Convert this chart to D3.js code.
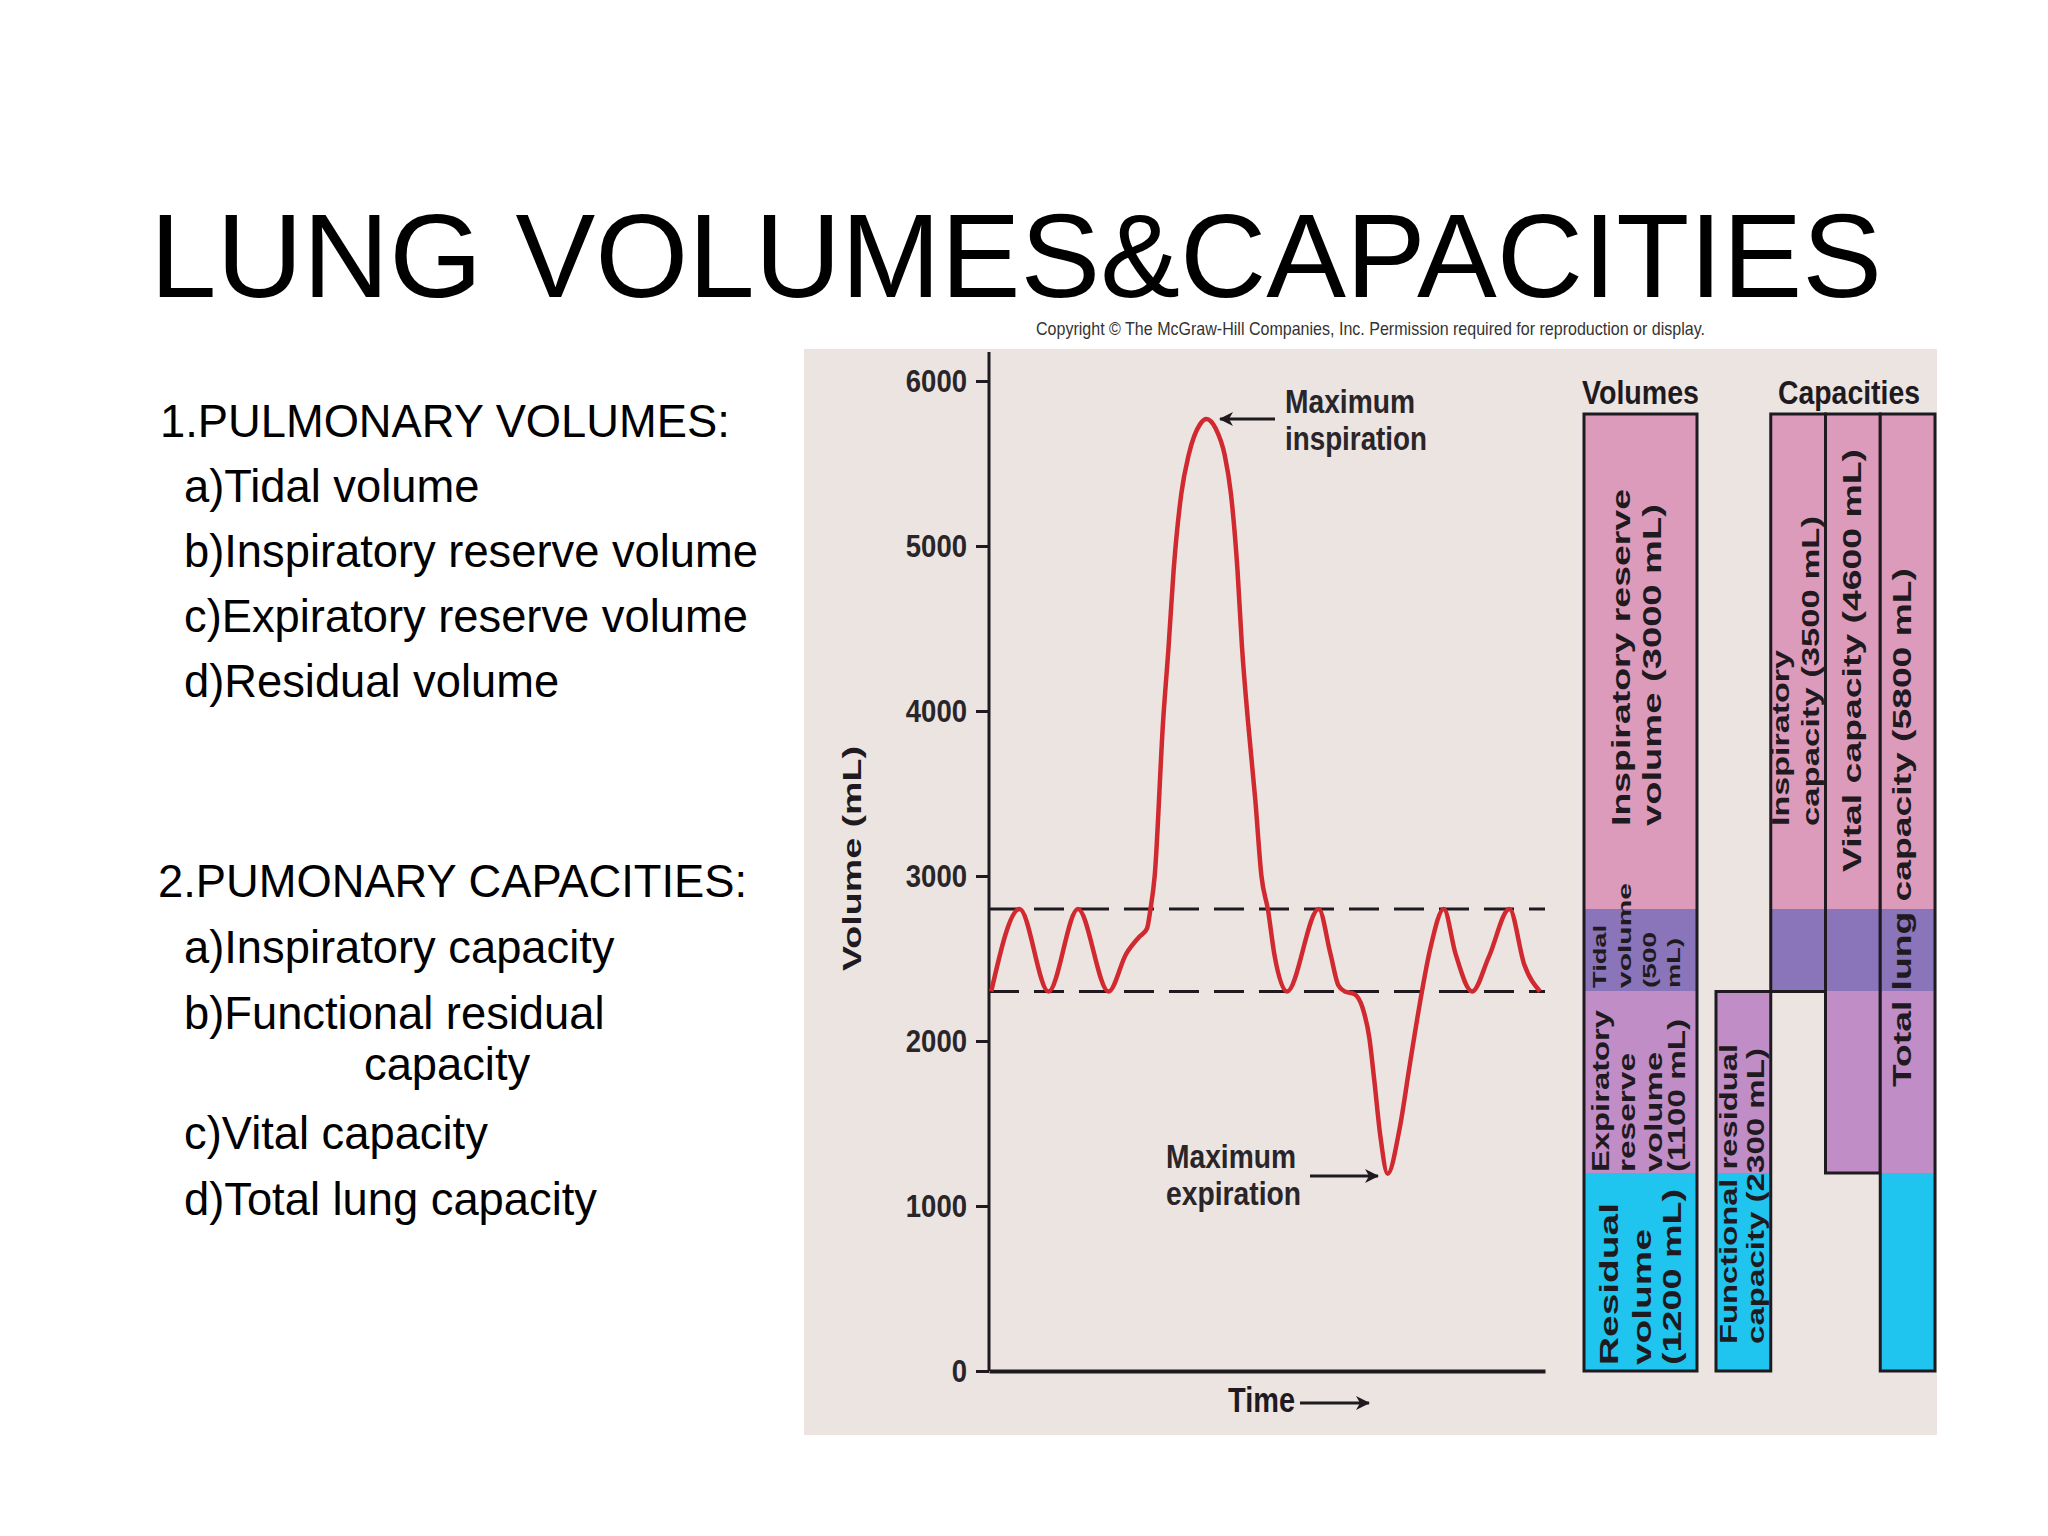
<!DOCTYPE html>
<html><head><meta charset="utf-8">
<script src="https://cdn.jsdelivr.net/npm/d3@7"></script>
<style>
html,body{margin:0;padding:0;background:#fff;}
svg{display:block;}
</style></head>
<body>
<svg id="c" width="2048" height="1536"></svg>
<script>
// ---------------- data ----------------
const titleText = "LUNG VOLUMES&CAPACITIES";
const copyrightText = "Copyright \u00A9 The McGraw-Hill Companies, Inc. Permission required for reproduction or display.";
const listLines = ["1.PULMONARY VOLUMES:", "a)Tidal volume", "b)Inspiratory reserve volume",
  "c)Expiratory reserve volume", "d)Residual volume",
  "2.PUMONARY CAPACITIES:", "a)Inspiratory capacity", "b)Functional residual", "capacity",
  "c)Vital capacity", "d)Total lung capacity"];

const yTicks = [0, 1000, 2000, 3000, 4000, 5000, 6000];
const yAxisTitle = "Volume (mL)";
const xAxisTitle = "Time";

// spirogram trace (time in arbitrary units 0-100, volume in mL)
const traceTime = [0.4, 5.5, 10.7, 16.0, 21.5, 24.7, 27.0, 28.4, 29.0, 29.8, 31.3, 32.3, 33.2, 34.6,
  35.9, 38.0, 39.1, 40.8, 42.4, 43.5, 44.7, 45.5, 46.6, 47.9, 49.0, 50.2, 51.3, 53.6, 59.3, 61.4,
  62.8, 64.0, 65.7, 67.2, 68.4, 69.3, 70.4, 71.7, 73.8, 75.7, 77.5, 79.3, 81.8, 83.9, 86.9, 89.9,
  93.6, 96.3, 99.1];
const traceVolume = [2300, 2800, 2300, 2800, 2300, 2530, 2630, 2680, 2790, 3000, 3930, 4390, 4850, 5320,
  5550, 5740, 5770, 5710, 5550, 5320, 4850, 4390, 3930, 3460, 3000, 2790, 2530, 2300, 2800, 2530,
  2340, 2300, 2285, 2200, 2020, 1760, 1420, 1195, 1460, 1860, 2230, 2550, 2800, 2530, 2300, 2510,
  2800, 2460, 2300];
const tidalLevels = [2800, 2300];
const inspirationNote = ["Maximum", "inspiration"];
const expirationNote = ["Maximum", "expiration"];

const volumeHeader = "Volumes";
const capacityHeader = "Capacities";
const volumeNames = ["Residual volume", "Expiratory reserve volume", "Tidal volume", "Inspiratory reserve volume"];
const volumeValues = [1200, 1100, 500, 3000];
const volumeLabelLines = [["Residual", "volume", "(1200 mL)"], ["Expiratory", "reserve", "volume", "(1100 mL)"],
  ["Tidal", "volume", "(500", "mL)"], ["Inspiratory reserve", "volume (3000 mL)"]];
const capacityNames = ["Functional residual capacity", "Inspiratory capacity", "Vital capacity", "Total lung capacity"];
const capacityValues = [2300, 3500, 4600, 5800];
const capacityParts = [[0, 1], [2, 3], [1, 2, 3], [0, 1, 2, 3]];
const capacityLabelLines = [["Functional residual", "capacity (2300 mL)"], ["Inspiratory", "capacity (3500 mL)"],
  ["Vital capacity (4600 mL)"], ["Total lung capacity (5800 mL)"]];

// ---------------- styles / layout ----------------
const segColors = ["#1fc4ef", "#c08dc6", "#8a74ba", "#dd9bbb"];
const ink = "#1f1a20";
const SANS = "'Liberation Sans', Arial, Helvetica, sans-serif";

const svg = d3.select("#c");

// title
svg.append("text").attr("x", 150).attr("y", 297)
  .attr("font-family", SANS).attr("font-size", 119).attr("fill", "#000")
  .attr("textLength", 1732).attr("lengthAdjust", "spacingAndGlyphs")
  .text(titleText);

// left list
const listLayout = [[160, 437], [184, 502], [184, 567], [184, 632], [184, 697],
  [158, 897], [184, 963], [184, 1029], [364, 1080], [184, 1149], [184, 1215]];
svg.append("g").selectAll("text").data(listLines).join("text")
  .attr("x", (d, i) => listLayout[i][0]).attr("y", (d, i) => listLayout[i][1])
  .attr("font-family", SANS).attr("font-size", 45.3).attr("fill", "#000")
  .text(d => d);

// figure panel
svg.append("rect").attr("x", 804).attr("y", 349).attr("width", 1133).attr("height", 1086)
  .attr("fill", "#ebe4e1");

svg.append("text").attr("x", 1036).attr("y", 335)
  .attr("font-family", SANS).attr("font-size", 19).attr("fill", "#333")
  .attr("textLength", 669).attr("lengthAdjust", "spacingAndGlyphs")
  .text(copyrightText);

// scales
const y = d3.scaleLinear().domain([0, 6000]).range([1371, 381]);
const x = d3.scaleLinear().domain([0, 100]).range([989, 1545]);

// markers
const defs = svg.append("defs");
defs.append("marker").attr("id", "arr").attr("viewBox", "-14 -8 16 16")
  .attr("refX", 0).attr("refY", 0).attr("markerWidth", 16).attr("markerHeight", 16)
  .attr("markerUnits", "userSpaceOnUse").attr("orient", "auto")
  .append("path").attr("d", "M1,0 L-13,-7 L-9,0 L-13,7 Z").attr("fill", ink);

// y axis
const yAxis = d3.axisLeft(y).tickValues(yTicks).tickFormat(d3.format("d"))
  .tickSize(13).tickSizeOuter(0).tickPadding(9);
const gy = svg.append("g").attr("transform", `translate(${x(0)},0)`).call(yAxis);
gy.select(".domain").remove();
gy.selectAll(".tick line").attr("stroke", ink).attr("stroke-width", 3);
gy.selectAll(".tick text").attr("font-family", SANS).attr("font-weight", "bold")
  .attr("font-size", 32).attr("fill", "#2a2528")
  .attr("textLength", d => String(d).length * 15.3).attr("lengthAdjust", "spacingAndGlyphs")
  .attr("dy", "0.33em");
svg.append("line").attr("x1", x(0)).attr("x2", x(0)).attr("y1", 352).attr("y2", y(0))
  .attr("stroke", ink).attr("stroke-width", 3);

// x axis (no ticks)
const gx = svg.append("g").attr("transform", `translate(0,${y(0)})`)
  .call(d3.axisBottom(x).tickValues([]).tickSizeOuter(0));
gx.select(".domain").attr("stroke", ink).attr("stroke-width", 4);

// axis titles
svg.append("text").attr("transform", `translate(861,971) rotate(-90)`)
  .attr("font-family", SANS).attr("font-weight", "bold").attr("font-size", 25).attr("fill", ink)
  .attr("textLength", 225).attr("lengthAdjust", "spacingAndGlyphs").text(yAxisTitle);
svg.append("text").attr("x", 1228).attr("y", 1412)
  .attr("font-family", SANS).attr("font-weight", "bold").attr("font-size", 35).attr("fill", ink)
  .attr("textLength", 67).attr("lengthAdjust", "spacingAndGlyphs").text(xAxisTitle);
svg.append("line").attr("x1", 1300).attr("x2", 1369).attr("y1", 1403).attr("y2", 1403)
  .attr("stroke", ink).attr("stroke-width", 3).attr("marker-end", "url(#arr)");

// dashed tidal lines
svg.append("g").selectAll("line").data(tidalLevels).join("line")
  .attr("x1", x(0)).attr("x2", x(100)).attr("y1", d => y(d)).attr("y2", d => y(d))
  .attr("stroke", ink).attr("stroke-width", 3).attr("stroke-dasharray", "30,15");

// trace
const line = d3.line().x(d => x(d[0])).y(d => y(d[1])).curve(d3.curveMonotoneX);
svg.append("path").datum(traceTime.map((t, i) => [t, traceVolume[i]]))
  .attr("d", line).attr("fill", "none").attr("stroke", "#d02a30").attr("stroke-width", 4.5)
  .attr("stroke-linejoin", "round");

// annotations
const noteFont = (sel) => sel.attr("font-family", SANS).attr("font-weight", "bold").attr("font-size", 34)
  .attr("fill", "#2a2528").attr("lengthAdjust", "spacingAndGlyphs");
svg.append("text").attr("x", 1285).attr("y", 413).call(noteFont).attr("textLength", 130).text(inspirationNote[0]);
svg.append("text").attr("x", 1285).attr("y", 450).call(noteFont).attr("textLength", 142).text(inspirationNote[1]);
svg.append("line").attr("x1", 1275).attr("x2", 1220).attr("y1", 419).attr("y2", 419)
  .attr("stroke", ink).attr("stroke-width", 3).attr("marker-end", "url(#arr)");
svg.append("text").attr("x", 1166).attr("y", 1168).call(noteFont).attr("textLength", 130).text(expirationNote[0]);
svg.append("text").attr("x", 1166).attr("y", 1205).call(noteFont).attr("textLength", 135).text(expirationNote[1]);
svg.append("line").attr("x1", 1310).attr("x2", 1378).attr("y1", 1176).attr("y2", 1176)
  .attr("stroke", ink).attr("stroke-width", 3).attr("marker-end", "url(#arr)");

// ---------------- bars ----------------
const cum = [0];
volumeValues.forEach(v => cum.push(cum[cum.length - 1] + v));
const volX = [1584, 1697];
const capX = d3.scaleBand().domain(capacityNames).range([1716, 1935]).paddingInner(0);

// headers
const headFont = (sel) => sel.attr("font-family", SANS).attr("font-weight", "bold").attr("font-size", 33)
  .attr("fill", ink).attr("text-anchor", "middle").attr("lengthAdjust", "spacingAndGlyphs");
svg.append("text").attr("x", (volX[0] + volX[1]) / 2).attr("y", 404).call(headFont).attr("textLength", 117).text(volumeHeader);
svg.append("text").attr("x", 1849).attr("y", 404).call(headFont).attr("textLength", 142).text(capacityHeader);

// volume column
const gv = svg.append("g");
gv.selectAll("rect").data(volumeValues).join("rect")
  .attr("x", volX[0]).attr("width", volX[1] - volX[0])
  .attr("y", (d, i) => y(cum[i + 1])).attr("height", (d, i) => y(cum[i]) - y(cum[i + 1]))
  .attr("fill", (d, i) => segColors[i]);
gv.append("rect").attr("x", volX[0]).attr("width", volX[1] - volX[0])
  .attr("y", y(cum[4])).attr("height", y(0) - y(cum[4]))
  .attr("fill", "none").attr("stroke", ink).attr("stroke-width", 3);

// capacity columns
capacityNames.forEach((name, ci) => {
  const g = svg.append("g");
  const parts = capacityParts[ci];
  const x0 = capX(name), w = capX.bandwidth();
  parts.forEach(p => {
    g.append("rect").attr("x", x0).attr("width", w)
      .attr("y", y(cum[p + 1])).attr("height", y(cum[p]) - y(cum[p + 1]))
      .attr("fill", segColors[p]);
  });
  const start = cum[parts[0]];
  g.append("rect").attr("x", x0).attr("width", w)
    .attr("y", y(start + capacityValues[ci])).attr("height", y(start) - y(start + capacityValues[ci]))
    .attr("fill", "none").attr("stroke", ink).attr("stroke-width", 3);
});

// labels (rotated)
const volLabelLayout = [
  { cx: [1610, 1643, 1673], y0: 1365, len: [162, 136, 176], fs: 25 },
  { cx: [1602, 1628, 1655, 1678], y0: 1172, len: [162, 119, 120, 153], fs: 23 },
  { cx: [1600, 1625, 1650, 1674], y0: 988, len: [63, 105, 56, 50], fs: 19 },
  { cx: [1622, 1653], y0: 826, len: [337, 322], fs: 26 }
];
const capLabelLayout = [
  { cx: [1730, 1757], y0: 1344, len: [300, 296], fs: 24 },
  { cx: [1782, 1812], y0: 826, len: [176, 310], fs: 24 },
  { cx: [1853], y0: 872, len: [423], fs: 26 },
  { cx: [1903], y0: 1087, len: [519], fs: 26 }
];
function drawLabels(lines, lay) {
  lines.forEach((ls, i) => {
    const L = lay[i];
    ls.forEach((t, j) => {
      svg.append("text")
        .attr("transform", `translate(${L.cx[j] + 0.3 * L.fs},${L.y0}) rotate(-90)`)
        .attr("font-family", SANS).attr("font-weight", "bold").attr("font-size", L.fs)
        .attr("fill", ink).attr("textLength", L.len[j]).attr("lengthAdjust", "spacingAndGlyphs")
        .text(t);
    });
  });
}
drawLabels(volumeLabelLines, volLabelLayout);
drawLabels(capacityLabelLines, capLabelLayout);
</script>
</body></html>
